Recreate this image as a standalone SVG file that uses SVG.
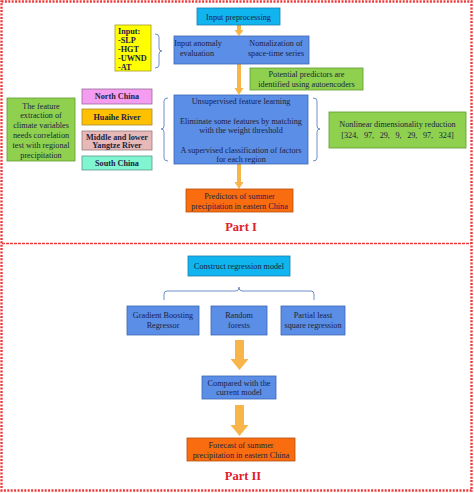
<svg xmlns="http://www.w3.org/2000/svg" width="474" height="493" viewBox="0 0 474 493">
<style>
text{font-family:"Liberation Serif","Times New Roman",serif;font-size:8.2px;fill:#1b2340;text-anchor:middle}
.b{font-weight:bold}
.l{text-anchor:start}
.blue{fill:#5b8ee6;stroke:#3d67b3;stroke-width:0.8}
.cyan{fill:#10b4ee;stroke:#1a7fb0;stroke-width:0.8}
.green{fill:#8fd14f;stroke:#5f9a2e;stroke-width:0.8}
.orange{fill:#fa6c10;stroke:#b5500f;stroke-width:0.8}
.arr{fill:#f7b54a}
.br{fill:none;stroke:#6f8fc8;stroke-width:1}
.title{font-size:12.5px;font-weight:bold;fill:#e0202a}
</style>
<rect x="1.5" y="1.5" width="470" height="489" fill="#fff" stroke="#ee3a3a" stroke-width="2.4" stroke-dasharray="2,1.4"/>
<line x1="2" y1="243.5" x2="471" y2="243.5" stroke="#ee3a3a" stroke-width="1.4" stroke-dasharray="3,1"/>

<g id="connectors">
<polygon class="arr" points="237,25 241,25 241,30 243.5,30 239,36 234.5,30 237,30"/>
<polygon class="arr" points="237,64 241,64 241,88 243.5,88 239,95 234.5,88 237,88"/>
<polygon class="arr" points="237,105 241,105 241,109 243.5,109 239,114 234.5,109 237,109"/>
<polygon class="arr" points="237,134 241,134 241,138 243.5,138 239,143 234.5,138 237,138"/>
<polygon class="arr" points="237,164 241,164 241,182 243.5,182 239,189 234.5,182 237,182"/>
<polygon class="arr" points="235,340 244,340 244,359 248.5,359 239.5,370 230.5,359 235,359"/>
<polygon class="arr" points="235,405 244,405 244,425 248.5,425 239.5,436 230.5,425 235,425"/>
<path class="br" d="M155,34 Q159,34 159,37 L159,48 Q159,51 162,51 Q159,51 159,54 L159,65 Q159,68 155,68"/>
<path class="br" d="M168,98 Q164,98 164,101 L164,126 Q164,129 161,129 Q164,129 164,132 L164,158 Q164,161 168,161"/>
<path class="br" d="M313,98 Q317,98 317,101 L317,126 Q317,129 320,129 Q317,129 317,132 L317,158 Q317,161 313,161"/>
<path class="br" d="M164,300 L164,294 Q164,291 167,291 L236,291 Q239,291 239,287 Q239,291 242,291 L311,291 Q314,291 314,294 L314,300"/>
</g>

<g id="input-preprocessing">
<rect class="cyan" x="197" y="8" width="83" height="17"/>
<text x="238.5" y="19.5">Input preprocessing</text>
</g>

<g id="input-vars">
<rect x="115" y="25" width="36" height="46" fill="#ffff00" stroke="#a89a20" stroke-width="0.8"/>
<text class="b l" x="118" y="33.5" font-size="7.6">Input:</text>
<text class="b l" x="118" y="42.5" font-size="7.6">-SLP</text>
<text class="b l" x="118" y="51.5" font-size="7.6">-HGT</text>
<text class="b l" x="118" y="60.5" font-size="7.6">-UWND</text>
<text class="b l" x="118" y="69.5" font-size="7.6">-AT</text>
</g>

<g id="anomaly-normalization">
<rect class="blue" x="174" y="36" width="135" height="28"/>
<text x="198" y="46">Input anomaly</text>
<text x="197" y="56">evaluation</text>
<text x="276" y="46">Nomalization of</text>
<text x="276" y="56">space-time series</text>
</g>

<g id="potential-predictors">
<rect class="green" x="250" y="68" width="113" height="22"/>
<text x="306.5" y="77">Potential predictors are</text>
<text x="306.5" y="87">identified using autoencoders</text>
</g>

<g id="feature-learning">
<rect class="blue" x="174" y="95" width="134" height="69"/>
<text x="241" y="104">Unsupervised feature learning</text>
<text x="241" y="123.5">Eliminate some features by matching</text>
<text x="241" y="133">with the weight threshold</text>
<text x="241" y="153">A supervised classification of factors</text>
<text x="241" y="162">for each region</text>
</g>

<g id="nonlinear">
<rect class="green" x="329" y="112" width="137" height="36"/>
<text x="397.5" y="127">Nonlinear dimensionality reduction</text>
<text x="397.5" y="137.5" word-spacing="3.5">[324, 97, 29, 9, 29, 97, 324]</text>
</g>

<g id="feature-extraction">
<rect class="green" x="7" y="98" width="68" height="63"/>
<text x="41" y="108.5">The feature</text>
<text x="41" y="118.3">extraction of</text>
<text x="41" y="128.1">climate variables</text>
<text x="41" y="137.9">needs correlation</text>
<text x="41" y="147.7">test with regional</text>
<text x="41" y="157.5">precipitation</text>
</g>

<g id="north-china">
<rect x="82" y="89" width="70" height="15" fill="#f49cf0" stroke="#9a6a98" stroke-width="0.8"/>
<text class="b" x="117" y="99" font-size="7.5">North China</text>
</g>
<g id="huaihe-river">
<rect x="82" y="109" width="70" height="16" fill="#ffc000" stroke="#a88a30" stroke-width="0.8"/>
<text class="b" x="117" y="120" font-size="7.5">Huaihe River</text>
</g>
<g id="yangtze-river">
<rect x="82" y="131" width="70" height="19" fill="#e6b8b7" stroke="#9a7a7a" stroke-width="0.8"/>
<text class="b" x="117" y="139.5" font-size="7.5">Middle and lower</text>
<text class="b" x="117" y="148" font-size="7.5">Yangtze River</text>
</g>
<g id="south-china">
<rect x="82" y="156" width="70" height="14" fill="#80f5d0" stroke="#5a9a88" stroke-width="0.8"/>
<text class="b" x="117" y="165.5" font-size="7.5">South China</text>
</g>

<g id="predictors">
<rect class="orange" x="186" y="189" width="107" height="23"/>
<text x="239.5" y="198.5">Predictors of summer</text>
<text x="239.5" y="208.5">precipitation in eastern China</text>
</g>

<text class="title" x="241" y="231">Part I</text>

<g id="construct-regression">
<rect class="cyan" x="188" y="256" width="102" height="20"/>
<text x="239" y="268.5">Construct regression model</text>
</g>

<g id="gradient-boosting">
<rect class="blue" x="127" y="306" width="72" height="29"/>
<text x="163" y="318">Gradient Boosting</text>
<text x="163" y="328">Regressor</text>
</g>
<g id="random-forests">
<rect class="blue" x="211" y="306" width="56" height="29"/>
<text x="239" y="318">Random</text>
<text x="239" y="328">forests</text>
</g>
<g id="partial-least-square">
<rect class="blue" x="281" y="306" width="64" height="29"/>
<text x="313" y="318">Partial least</text>
<text x="313" y="328">square regression</text>
</g>

<g id="compared">
<rect class="blue" x="202" y="376" width="74" height="23"/>
<text x="239" y="385.5">Compared with the</text>
<text x="239" y="395">current model</text>
</g>

<g id="forecast">
<rect class="orange" x="187" y="438" width="108" height="23"/>
<text x="241" y="447.5">Forecast of summer</text>
<text x="241" y="457.5">precipitation in eastern China</text>
</g>

<text class="title" x="243" y="480">Part II</text>
</svg>
